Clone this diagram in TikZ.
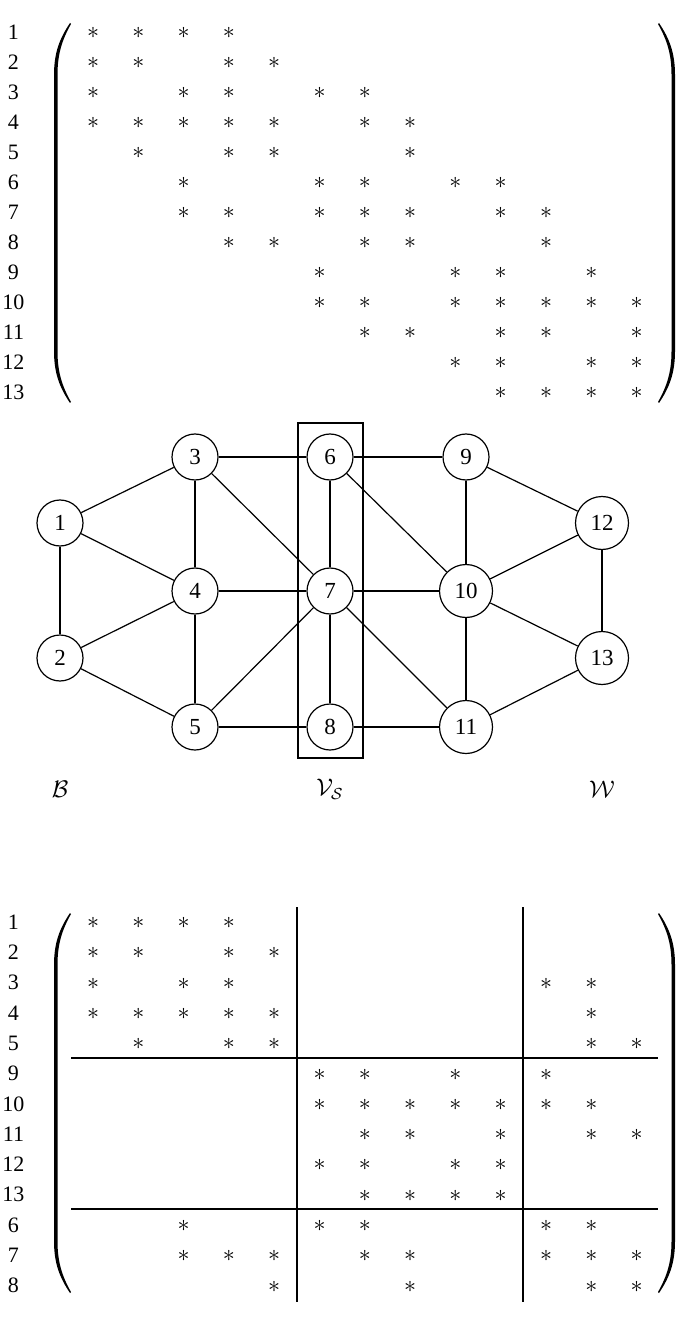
\documentclass[tikz,border=0pt]{standalone}
\usepackage{fontspec}
\setmainfont{Liberation Serif}
\usetikzlibrary{positioning}

% tall round bracket pair, #1 = top of the brackets
\newcommand{\parenpair}[1]{%
  \begin{scope}[shift={(0,#1)}]
    \fill (70,0) .. controls (60,15) and (54,29) .. (54,52) -- (54,328)
      .. controls (54,351) and (60,365) .. (70,380) -- (71,379)
      .. controls (62,363) and (57.5,349) .. (57.5,328) -- (57.5,52)
      .. controls (57.5,31) and (62,17) .. (71,1) -- cycle;
    \begin{scope}[shift={(729,0)},xscale=-1]
      \fill (70,0) .. controls (60,15) and (54,29) .. (54,52) -- (54,328)
        .. controls (54,351) and (60,365) .. (70,380) -- (71,379)
        .. controls (62,363) and (57.5,349) .. (57.5,328) -- (57.5,52)
        .. controls (57.5,31) and (62,17) .. (71,1) -- cycle;
    \end{scope}
  \end{scope}}

\begin{document}
\begin{tikzpicture}[x=0.5pt,y=-0.5pt,
  ent/.style={inner sep=0pt,font=\fontsize{12.5}{14}\selectfont},
  lab/.style={inner sep=0pt,font=\fontsize{11}{13}\selectfont},
  vtx/.style={draw,circle,line width=0.6pt,minimum size=23pt,inner sep=0pt,
    font=\fontsize{11.5}{13}\selectfont},
  vtxw/.style={vtx,minimum size=26.5pt},
  edge/.style={line width=0.6pt},
  part/.style={line width=0.65pt},
  setlab/.style={inner sep=0pt,font=\fontsize{12}{14}\selectfont}]
\useasboundingbox (0,0) rectangle (685,1325);

% original ordering
\parenpair{23}
\foreach \r/\cs in {1/{1,2,3,4},2/{1,2,4,5},3/{1,3,4,6,7},4/{1,2,3,4,5,7,8},
    5/{2,4,5,8},6/{3,6,7,9,10},7/{3,4,6,7,8,10,11},8/{4,5,7,8,11},
    9/{6,9,10,12},10/{6,7,9,10,11,12,13},11/{7,8,10,11,13},12/{9,10,12,13},
    13/{10,11,12,13}}{
  \node[lab] (tr\r) at (13.5,{32+30*(\r-1)}) {\r};
  \foreach \c in \cs {\node[ent] (t\r-\c) at ({93+45.3*(\c-1)},{33+30*(\r-1)}) {$\ast$};}
}

% graph
\node[vtx]  (n1)  at (60,523) {1};
\node[vtx]  (n2)  at (60,658) {2};
\node[vtx]  (n3)  at (195,457) {3};
\node[vtx]  (n4)  at (195,591) {4};
\node[vtx]  (n5)  at (195,727) {5};
\node[vtx]  (n6)  at (330,457) {6};
\node[vtx]  (n7)  at (330,591) {7};
\node[vtx]  (n8)  at (330,727) {8};
\node[vtx]  (n9)  at (466,457) {9};
\node[vtxw] (n10) at (466,591) {10};
\node[vtxw] (n11) at (466,727) {11};
\node[vtxw] (n12) at (602,523) {12};
\node[vtxw] (n13) at (602,658) {13};
\foreach \a/\b in {1/2,1/3,1/4,2/4,2/5,3/4,3/6,3/7,4/5,4/7,5/7,5/8,6/7,6/9,
    6/10,7/8,7/10,7/11,8/11,9/10,9/12,10/11,10/12,10/13,11/13,12/13}
  \draw[edge] (n\a) -- (n\b);
\draw[line width=1.4pt] (298,423) rectangle (363,758);
\node[setlab] (setB) at (60,789) {$\mathcal{B}$};
\node[setlab] (setV) at (330,789) {$\mathcal{V}_{\mathcal{S}}$};
\node[setlab] (setW) at (602,789) {$\mathcal{W}$};

% reordered: B, W, separator
\parenpair{913}
\draw[part] (297,907) -- (297,1302) (523,907) -- (523,1302);
\draw[part] (71,1058) -- (658,1058) (71,1209) -- (658,1209);
\foreach \r/\l/\cs in {1/1/{1,2,3,4},2/2/{1,2,4,5},3/3/{1,3,4,11,12},
    4/4/{1,2,3,4,5,12},5/5/{2,4,5,12,13},6/9/{6,7,9,11},7/10/{6,7,8,9,10,11,12},
    8/11/{7,8,10,12,13},9/12/{6,7,9,10},10/13/{7,8,9,10},11/6/{3,6,7,11,12},
    12/7/{3,4,5,7,8,11,12,13},13/8/{5,8,12,13}}{
  \node[lab] (br\r) at (13.5,{922+30.3*(\r-1)}) {\l};
  \foreach \c in \cs {\node[ent] (b\r-\c) at ({93+45.3*(\c-1)},{923+30.3*(\r-1)}) {$\ast$};}
}
\end{tikzpicture}
\end{document}
